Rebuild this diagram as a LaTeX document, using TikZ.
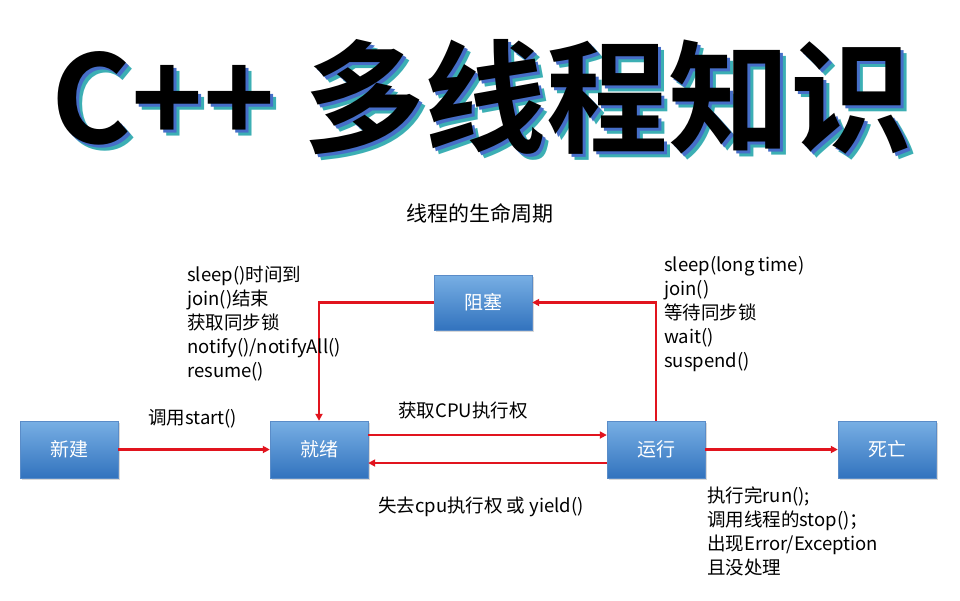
\documentclass[tikz,border=0pt]{standalone}
\usepackage{fontspec}
\setmainfont{Noto Sans CJK SC}
\newfontfamily\titlefont{Noto Sans CJK SC}[BoldFont=* Bold]
\usetikzlibrary{arrows.meta,shadows}
\newcommand{\ttltext}{\resizebox{860pt}{104pt}{\titlefont\bfseries C++ 多线程知识}}
\tikzset{
 box/.style={rectangle,minimum width=98pt,minimum height=57pt,
   top color={rgb,255:red,120;green,175;blue,228},bottom color={rgb,255:red,50;green,115;blue,190},
   draw={rgb,255:red,90;green,140;blue,200},text=white,font=\fontsize{19}{19}\selectfont,drop shadow={opacity=0.3,shadow xshift=2pt,shadow yshift=-2pt}},
 conn/.style={draw={rgb,255:red,225;green,20;blue,30},line width=2.4pt,-{Triangle[length=7pt,width=7pt]}},
 lbl/.style={anchor=west,font=\fontsize{18.5}{24}\selectfont,align=left,inner sep=0pt},
}
\begin{document}
\begin{tikzpicture}[x=1pt,y=-1pt]
\useasboundingbox (0,0) rectangle (960,600);
\fill[white] (0,0) rectangle (960,600);
% title with layered shadow in one node
\node (title) at (482,100) {\rlap{\raisebox{-6pt}{\hspace{6pt}\textcolor[RGB]{60,175,180}{\ttltext}}}\rlap{\raisebox{-3pt}{\hspace{3pt}\textcolor[RGB]{70,110,200}{\ttltext}}}\ttltext};
\node (sub) at (480,213) {\fontsize{21}{21}\selectfont 线程的生命周期};
% nodes
\node[box] (new) at (69,449.5) {新建};
\node[box] (ready) at (319,449.5) {就绪};
\node[box] (run) at (656,449.5) {运行};
\node[box] (dead) at (887,449.5) {死亡};
\node[box,minimum height=55pt] (block) at (483,302.5) {阻塞};
% connectors
\draw[conn] (new.east) -- (ready.west);
\draw[conn] (ready.east |- 0,435) -- (run.west |- 0,435);
\draw[conn] (run.west |- 0,463) -- (ready.east |- 0,463);
\draw[conn] (run.east) -- (dead.west);
\draw[conn] (run.north) |- (block.east);
\draw[conn] (block.west) -| (ready.north);
% labels
\node[lbl] (l1) at (148,419) {调用start()};
\node[lbl] (l2) at (398,410) {获取CPU执行权};
\node[lbl] (l3) at (378,507) {失去cpu执行权 或 yield()};
\node[lbl,anchor=north west] (l4) at (187,266) {sleep()时间到\\join()结束\\获取同步锁\\notify()/notifyAll()\\resume()};
\node[lbl,anchor=north west] (l5) at (664,256) {sleep(long time)\\join()\\等待同步锁\\wait()\\suspend()};
\node[lbl,anchor=north west] (l6) at (707,487) {执行完run();\\调用线程的stop()；\\出现Error/Exception\\且没处理};
\end{tikzpicture}
\end{document}
